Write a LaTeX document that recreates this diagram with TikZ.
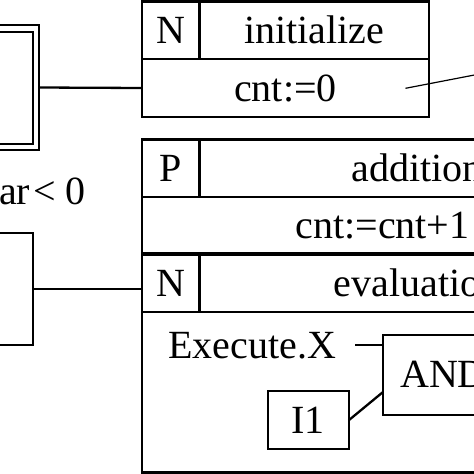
\documentclass[tikz,border=0pt]{standalone}
\usepackage{fontspec}
\setmainfont{Liberation Serif}
\usetikzlibrary{calc,positioning}
\tikzset{
  lbl/.style     ={inner sep=0pt, text height=26.5pt, text depth=0pt},
  sfcstep/.style ={rectangle, draw, line width=2pt, inner sep=0pt, outer sep=0pt},
  sfccell/.style ={rectangle, draw, line width=2.5pt, inner sep=0pt, outer sep=0pt, lbl},
  qcell/.style   ={sfccell, minimum width=57.5pt, minimum height=57.5pt},
  fbdbox/.style  ={rectangle, draw, line width=2pt, inner sep=0pt, outer sep=0pt, lbl},
  link/.style    ={line width=2.3pt},
  notelink/.style={line width=1.2pt},
}
\begin{document}
\begin{tikzpicture}[x=1pt, y=-1pt, font=\fontsize{40}{48}\selectfont]
    \useasboundingbox (0,0) rectangle (474,474);
    \clip (0,0) rectangle (474,474);
    \node[sfcstep, minimum width=79pt,   minimum height=125pt]   (init)   at (-0.5, 87.5)  {};
    \node[sfcstep, minimum width=72.5pt, minimum height=112.5pt] (initin) at (-3.75, 87.75) {};
    \node[sfcstep, minimum width=73pt,   minimum height=112pt]   (s2)     at (-3.5, 289)   {};
    \node[lbl, anchor=west] (cond) at (-1, 191) {ar{\fontsize{12}{12}\selectfont\ }< 0};
    \node[qcell] (q1) at (170.75, 30.25) {N};
    \node[sfccell, minimum width=229.5pt, minimum height=57.5pt] (n1) at (314.25, 30.25) {initialize};
    \node[sfccell, minimum width=287pt,   minimum height=58pt]   (b1) at (285.5, 88)     {cnt:=0};
    \node[qcell] (q2) at (170.75, 168.25) {P};
    \node[sfccell, minimum width=435.5pt, minimum height=57.5pt] (n2) at (417.25, 168.25) {addition};
    \node[sfccell, minimum width=493pt,   minimum height=56pt]   (b2) at (388.5, 225)     {};
    \node[lbl] (b2txt) at (382.5, 225) {cnt:=cnt+1};
    \node[qcell, minimum height=57pt] (q3) at (170.75, 283.5) {N};
    \node[sfccell, minimum width=435.5pt, minimum height=57pt]    (n3) at (417.25, 283.5) {evaluation};
    \node[sfccell, minimum width=493pt,   minimum height=160.5pt] (b3) at (388.5, 392.25) {};
    \node[lbl, anchor=west] (exec) at (168, 345) {Execute.X};
    \node[fbdbox, minimum width=121pt, minimum height=80pt] (andg) at (443.5, 374.7) {AND};
    \node[fbdbox, minimum width=81pt,  minimum height=58pt] (i1)   at (308.2, 420.3) {I1};
    \draw[link] (init.east) -- (b1.west);
    \draw[link] (s2.east) -- (s2.east -| q3.west);
    \draw[link] ([xshift=19pt]exec.east) -- (exec.east -| andg.west);
    \draw[link] (i1.east) -- ([yshift=-57.3pt]andg.north west);
    \coordinate (notetip) at (405.5, 88.3);
    \coordinate (noteend) at (520, 66.2);
    \draw[notelink] (notetip) -- (noteend);
\end{tikzpicture}
\end{document}
